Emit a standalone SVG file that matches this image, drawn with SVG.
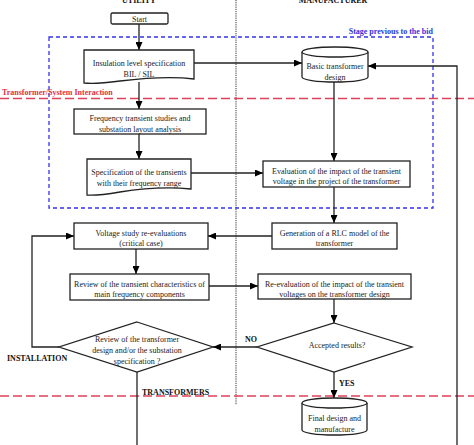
<svg xmlns="http://www.w3.org/2000/svg" width="474" height="445" viewBox="0 0 474 445">
<defs>
<marker id="ah" markerWidth="8" markerHeight="7" refX="8" refY="3.5" orient="auto" markerUnits="userSpaceOnUse">
<path d="M0,0 L8,3.5 L0,7 z" fill="#000"/>
</marker>
<style>
.n{fill:#fff;stroke:#222;stroke-width:1.3}
.t{font-family:"Liberation Serif","Times New Roman",serif;font-size:8px;fill:#222;text-anchor:middle}
.b{font-family:"Liberation Serif","Times New Roman",serif;font-size:8px;font-weight:bold;fill:#111}
.c{fill:none;stroke:#222;stroke-width:1.3}
.a{fill:none;stroke:#222;stroke-width:1.3;marker-end:url(#ah)}
</style>
</defs>
<rect width="474" height="445" fill="#fff"/>
<g id="background">
<line x1="236" y1="0" x2="236" y2="405" stroke="#333" stroke-width="1" stroke-dasharray="1.2 1"/>
<rect x="49" y="37" width="384" height="171" fill="none" stroke="#3333ee" stroke-width="1.3" stroke-dasharray="4 3"/>
<line x1="0" y1="98.5" x2="474" y2="98.5" stroke="#e0405a" stroke-width="1.4" stroke-dasharray="9 4"/>
<line x1="0" y1="396" x2="474" y2="396" stroke="#e0405a" stroke-width="1.4" stroke-dasharray="9 4"/>
<text class="b" x="139" y="3" text-anchor="middle">UTILITY</text>
<text class="b" x="333" y="3" text-anchor="middle">MANUFACTURER</text>
<text class="b" x="433" y="34" text-anchor="end" style="fill:#3333dd">Stage previous to the bid</text>
<text class="b" x="2" y="95" style="fill:#e0304a">Transformer/System Interaction</text>
<text class="b" x="7" y="361">INSTALLATION</text>
<text class="b" x="142" y="395">TRANSFORMERS</text>
</g>
<g id="connectors">
<line class="a" x1="139" y1="24" x2="139" y2="50"/>
<line class="a" x1="194" y1="63" x2="302" y2="63"/>
<polyline class="a" points="457,445 457,66 368,66"/>
<line class="a" x1="139" y1="82" x2="139" y2="109"/>
<line class="a" x1="139" y1="134" x2="139" y2="159"/>
<line class="a" x1="334" y1="82" x2="334" y2="161"/>
<line class="a" x1="191" y1="173" x2="263" y2="173"/>
<line class="a" x1="334" y1="187" x2="334" y2="223"/>
<line class="a" x1="272" y1="236" x2="208" y2="236"/>
<polyline class="a" points="59,347 32,347 32,236 74,236"/>
<line class="a" x1="136" y1="249" x2="136" y2="274"/>
<line class="a" x1="209" y1="286" x2="258" y2="286"/>
<line class="a" x1="334" y1="299" x2="334" y2="323"/>
<line class="a" x1="257" y1="347" x2="213" y2="347"/>
<line class="a" x1="334" y1="372" x2="334" y2="398"/>
<line class="c" x1="137" y1="372" x2="137" y2="445"/>
<text class="b" x="245" y="342">NO</text>
<text class="b" x="339" y="386">YES</text>
</g>
<g id="start">
<rect class="n" x="111" y="13" width="57" height="11" rx="1.5"/>
<text class="t" x="139.5" y="21.5">Start</text>
</g>
<g id="insulation">
<path class="n" d="M84,50 H194 V79 C170,76 145,78 120,81 C105,83 93,84 84,83 Z"/>
<text class="t" x="139" y="65.5">Insulation level specification</text>
<text class="t" x="139" y="76.5">BIL / SIL</text>
</g>
<g id="basic-design">
<path class="n" d="M302,52 V77 A33,5 0 0 0 368,77 V52"/>
<ellipse class="n" cx="335" cy="52" rx="33" ry="5"/>
<text class="t" x="335" y="69">Basic transformer</text>
<text class="t" x="335" y="80">design</text>
</g>
<g id="frequency">
<rect class="n" x="74" y="109" width="132" height="25"/>
<text class="t" x="140" y="121">Frequency transient studies and</text>
<text class="t" x="140" y="131.5">substation layout analysis</text>
</g>
<g id="spec">
<path class="n" d="M87,159 H191 V189 C170,187 145,188 120,192 C108,194 96,196 87,195 Z"/>
<text class="t" x="139" y="175">Specification of the transients</text>
<text class="t" x="139" y="185.5">with their  frequency range</text>
</g>
<g id="evaluation">
<rect class="n" x="263" y="161" width="147" height="26"/>
<text class="t" x="336.5" y="174">Evaluation of the impact of the transient</text>
<text class="t" x="336.5" y="184">voltage in the project of the transformer</text>
</g>
<g id="rlc">
<rect class="n" x="272" y="223" width="125" height="26"/>
<text class="t" x="334.5" y="236">Generation of a RLC model of the</text>
<text class="t" x="334.5" y="246">transformer</text>
</g>
<g id="voltage-study">
<rect class="n" x="74" y="223" width="134" height="26"/>
<text class="t" x="141" y="236">Voltage study re-evaluations</text>
<text class="t" x="141" y="246">(critical case)</text>
</g>
<g id="review-transient">
<rect class="n" x="70" y="274" width="139" height="26"/>
<text class="t" x="139.5" y="287">Review of the transient characteristics of</text>
<text class="t" x="139.5" y="297">main frequency components</text>
</g>
<g id="re-evaluation">
<rect class="n" x="258" y="274" width="153" height="25"/>
<text class="t" x="334.5" y="287">Re-evaluation of the impact of the transient</text>
<text class="t" x="334.5" y="297">voltages on the transformer design</text>
</g>
<g id="review-design">
<polygon class="n" points="137,322 213,347 137,372 59,347"/>
<text class="t" x="137" y="342">Review of the transformer</text>
<text class="t" x="137" y="353">design and/or the substation</text>
<text class="t" x="137" y="364">specification ?</text>
</g>
<g id="accepted">
<polygon class="n" points="334,323 412,347 334,372 257,347"/>
<text class="t" x="337" y="348">Accepted results?</text>
</g>
<g id="final">
<path class="n" d="M302,403 V430 A32.5,5 0 0 0 367,430 V403"/>
<ellipse class="n" cx="334.5" cy="403" rx="32.5" ry="5"/>
<text class="t" x="334.5" y="421">Final design and</text>
<text class="t" x="334.5" y="432">manufacture</text>
</g>
</svg>
